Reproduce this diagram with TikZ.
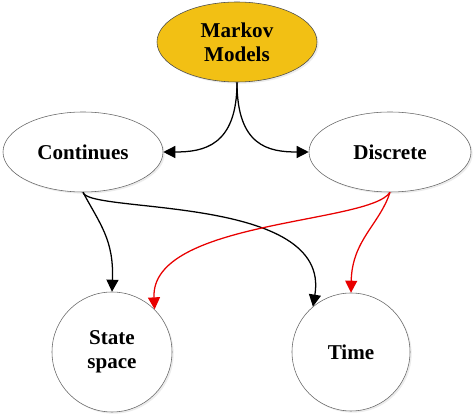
\documentclass[tikz,border=0pt]{standalone}
\usepackage{fontspec}
\setmainfont{Liberation Serif}
\usetikzlibrary{shapes}
\usetikzlibrary{arrows.meta}
\usetikzlibrary{shadows}
\definecolor{markovgold}{RGB}{242,192,20}
\definecolor{linered}{RGB}{232,0,0}

\begin{document}
\begin{tikzpicture} [
            model/.style={draw=black!60,thin,fill=white,ellipse,minimum width=4cm,minimum height=2cm,
                          drop shadow={opacity=0.15,shadow xshift=1.2pt,shadow yshift=-1.2pt}},
            leaf/.style={draw=black!60,thin,fill=white,circle,minimum size=3cm,
                          drop shadow={opacity=0.15,shadow xshift=1.2pt,shadow yshift=-1.2pt}},
            link/.style={-{Triangle[length=3mm,width=3mm]},line width=0.9pt,black},
            redlink/.style={link,color=linered},
         every node/.append style={align=center,font=\fontsize{15}{17}\selectfont\bfseries}]

% bounding box
\useasboundingbox (0,0) rectangle (11.85,-10.375);

%Top
\node (markov) at (5.925,-1.05) [model,fill=markovgold,draw=black!70] {Markov\\Models};

%Middle
\node (cont) at (2.075,-3.8) [model] {Continues};
\node (disc) at (9.75,-3.8) [model,minimum width=4.05cm] {Discrete};

%Bottom
\node (state) at (2.8,-8.8) [leaf] {State\\space};
\node (time) at (8.775,-8.8) [leaf,minimum size=2.95cm] {Time};

% from the top
\draw [link] (markov.south) .. controls +(0,-1.6) and +(1,0) .. (cont.east);
\draw [link] (markov.south) .. controls +(0,-1.6) and +(-1,0) .. (disc.west);

% black ones
\draw [link] (cont.south) .. controls (2.5,-5.6) and (2.85,-6.0) .. (state.north);
\draw [link] (cont.south) .. controls (2.2,-5.35) and (8.3,-4.85) .. (time.130);

% red ones
\draw [redlink] (disc.south) .. controls (9.25,-5.6) and (3.75,-5.5) .. (state.45);
\draw [redlink] (disc.south) .. controls (9.5,-5.6) and (8.8,-6.0) .. (time.north);

\end{tikzpicture}
\end{document}
